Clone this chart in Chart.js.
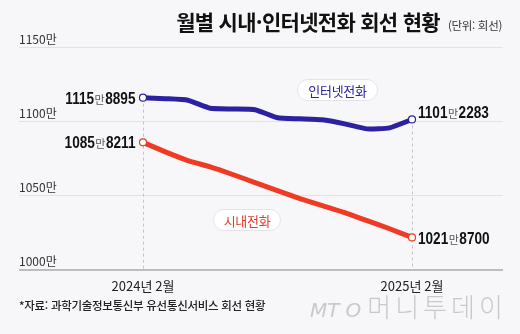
<!DOCTYPE html>
<html lang="ko">
<head>
<meta charset="utf-8">
<script src="https://cdn.jsdelivr.net/npm/chart.js@4.4.1/dist/chart.umd.min.js"></script>
<style>
  html, body { margin: 0; padding: 0; background: #f7f7f9; }
  #wrap { position: relative; width: 520px; height: 334px; overflow: hidden; background: #f7f7f9;
    font-family: "Noto Sans CJK KR", "Noto Sans", sans-serif; }
  #chart { position: absolute; left: 0; top: 0; }
  .title { position: absolute; right: 18px; top: 6px; white-space: nowrap; color: #111; }
  .title b { font-size: 21px; font-weight: 700; letter-spacing: -0.7px; }
  .title span { font-size: 11.5px; color: #333; margin-left: 8px; letter-spacing: -0.3px; }
  .pill { position: absolute; height: 22px; line-height: 21px; box-sizing: border-box; border: 1px solid #e4e4e8;
    background: #fff; border-radius: 12px; text-align: center; font-size: 13px; letter-spacing: -0.3px; }
  .note { position: absolute; left: 19px; top: 297px; font-size: 11.5px; color: #222; letter-spacing: -0.3px; font-weight: 500; }
  .logo { position: absolute; left: 310px; top: 287px; color: #c9c9cc; font-size: 26px; font-weight: 300; white-space: nowrap; letter-spacing: 4px; }
  .logo i { font-family: "DejaVu Sans", sans-serif; font-size: 20px; letter-spacing: 0; margin-right: 6px; font-weight: 300; }
</style>
</head>
<body>
<div id="wrap">
  <canvas id="chart" width="520" height="334"></canvas>
  <div class="title"><b>월별 시내·인터넷전화 회선 현황</b><span>(단위: 회선)</span></div>
  <div class="pill" style="left:297px; top:79px; width:81px; color:#2b21a1;">인터넷전화</div>
  <div class="pill" style="left:213px; top:209px; width:68px; color:#e8392a;">시내전화</div>
  <div class="note">*자료: 과학기술정보통신부 유선통신서비스 회선 현황</div>
  <div class="logo"><i>MT</i><i>O</i>머니투데이</div>
</div>
<script>
// 2024년 2월 ~ 2025년 2월, 단위: 만 회선
const months = ["2024년 2월", "2024년 3월", "2024년 4월", "2024년 5월", "2024년 6월", "2024년 7월",
  "2024년 8월", "2024년 9월", "2024년 10월", "2024년 11월", "2024년 12월", "2025년 1월", "2025년 2월"];
const internetPhone = [1115.8895, 1115.2, 1114.2, 1108.8, 1108.3, 1107.8, 1102.4, 1101.7, 1101.0, 1098.3, 1094.9, 1095.6, 1101.2283];
const localPhone = [1085.8211, 1079.4, 1073.6, 1069.3, 1064.2, 1058.8, 1053.4, 1048.0, 1043.2, 1038.5, 1033.1, 1027.7, 1021.87];
const yTicks = [1000, 1050, 1100, 1150];
const xShown = [0, months.length - 1];

const BLUE = "#2b21a1";
const RED = "#ef3b24";
const last = months.length - 1;

const toPoints = (arr) => arr.map((v, i) => ({ x: i, y: v }));
const endPoint = (ctx) => (ctx.dataIndex === 0 || ctx.dataIndex === last ? 3.5 : 0);

function splitMan(v) {
  const man = Math.floor(v);
  const rest = Math.round((v - man) * 10000);
  return [String(man), String(rest).padStart(4, "0")];
}

// 숫자는 좁게(가로 0.85배), "만"은 작고 옅게
const NUM_FONT = "bold 16px 'Liberation Sans', Arial, sans-serif";
const NUM_SCALE = 0.85;

function drawValue(ctx, v, x, y, align) {
  const [a, b] = splitMan(v);
  const parts = [
    { t: a, f: NUM_FONT, c: "#111", s: NUM_SCALE },
    { t: "만", f: "11px 'Noto Sans CJK KR', sans-serif", c: "#555", s: 1 },
    { t: b, f: NUM_FONT, c: "#111", s: NUM_SCALE },
  ];
  let w = 0;
  parts.forEach((p) => { ctx.font = p.f; p.w = ctx.measureText(p.t).width * p.s; w += p.w + 0.5; });
  let cx = align === "right" ? x - w : x;
  ctx.textAlign = "left";
  ctx.textBaseline = "alphabetic";
  parts.forEach((p) => {
    ctx.save();
    ctx.font = p.f;
    ctx.fillStyle = p.c;
    ctx.translate(cx, y + 6);
    ctx.scale(p.s, 1);
    ctx.fillText(p.t, 0, 0);
    ctx.restore();
    cx += p.w + 0.5;
  });
}

const guideLines = {
  id: "guideLines",
  beforeDatasetsDraw(chart) {
    const { ctx, chartArea, scales } = chart;
    ctx.save();
    ctx.strokeStyle = "#c4c4c8";
    ctx.lineWidth = 1;
    ctx.setLineDash([3, 3]);
    xShown.forEach((i) => {
      const x = Math.round(scales.x.getPixelForValue(i)) + 0.5;
      const top = scales.y.getPixelForValue(Math.max(internetPhone[i], localPhone[i]));
      ctx.beginPath();
      ctx.moveTo(x, top);
      ctx.lineTo(x, chartArea.bottom);
      ctx.stroke();
    });
    ctx.restore();
  },
  afterDatasetsDraw(chart) {
    const { ctx } = chart;
    ctx.save();
    const blue = chart.getDatasetMeta(0).data;
    const red = chart.getDatasetMeta(1).data;
    drawValue(ctx, internetPhone[0], blue[0].x - 7, blue[0].y, "right");
    drawValue(ctx, localPhone[0], red[0].x - 7, red[0].y, "right");
    drawValue(ctx, internetPhone[last], blue[last].x + 6, blue[last].y - 7, "left");
    drawValue(ctx, localPhone[last], red[last].x + 6, red[last].y + 1, "left");
    ctx.restore();
  },
};

new Chart(document.getElementById("chart"), {
  type: "line",
  data: {
    datasets: [
      {
        label: "인터넷전화",
        data: toPoints(internetPhone),
        borderColor: BLUE,
        borderWidth: 5,
        tension: 0.15,
        pointRadius: endPoint,
        pointBackgroundColor: "#fff",
        pointBorderColor: BLUE,
        pointBorderWidth: 1.2,
      },
      {
        label: "시내전화",
        data: toPoints(localPhone),
        borderColor: RED,
        borderWidth: 5,
        tension: 0.15,
        pointRadius: endPoint,
        pointBackgroundColor: "#fff",
        pointBorderColor: RED,
        pointBorderWidth: 1.2,
      },
    ],
  },
  options: {
    responsive: false,
    animation: false,
    layout: {
      padding: { left: 19, right: 17, top: 47, bottom: 40.5 },
    },
    scales: {
      x: {
        type: "linear",
        min: -5.53,
        max: 16.06,
        afterBuildTicks: (axis) => { axis.ticks = xShown.map((v) => ({ value: v })); },
        grid: { display: false },
        border: { display: false },
        ticks: {
          padding: 0,
          color: "#222",
          font: { family: "'Noto Sans CJK KR', sans-serif", size: 13 },
          callback: (v) => months[v],
        },
      },
      y: {
        min: 1000,
        max: 1150,
        afterBuildTicks: (axis) => { axis.ticks = yTicks.map((v) => ({ value: v })); },
        border: { display: false },
        grid: {
          drawTicks: false,
          color: (c) => (c.tick && c.tick.value === 1000 ? "#bdbdc1" : "#e2e2e6"),
          lineWidth: (c) => (c.tick && c.tick.value === 1000 ? 2 : 1),
        },
        ticks: {
          mirror: true,
          padding: 0,
          labelOffset: -8,
          color: "#333",
          font: { family: "'Liberation Sans Narrow', 'Noto Sans CJK KR', sans-serif", size: 12 },
          callback: (v) => v + "만",
        },
      },
    },
    plugins: {
      legend: { display: false },
      tooltip: { enabled: false },
    },
  },
  plugins: [guideLines],
});
</script>
</body>
</html>
